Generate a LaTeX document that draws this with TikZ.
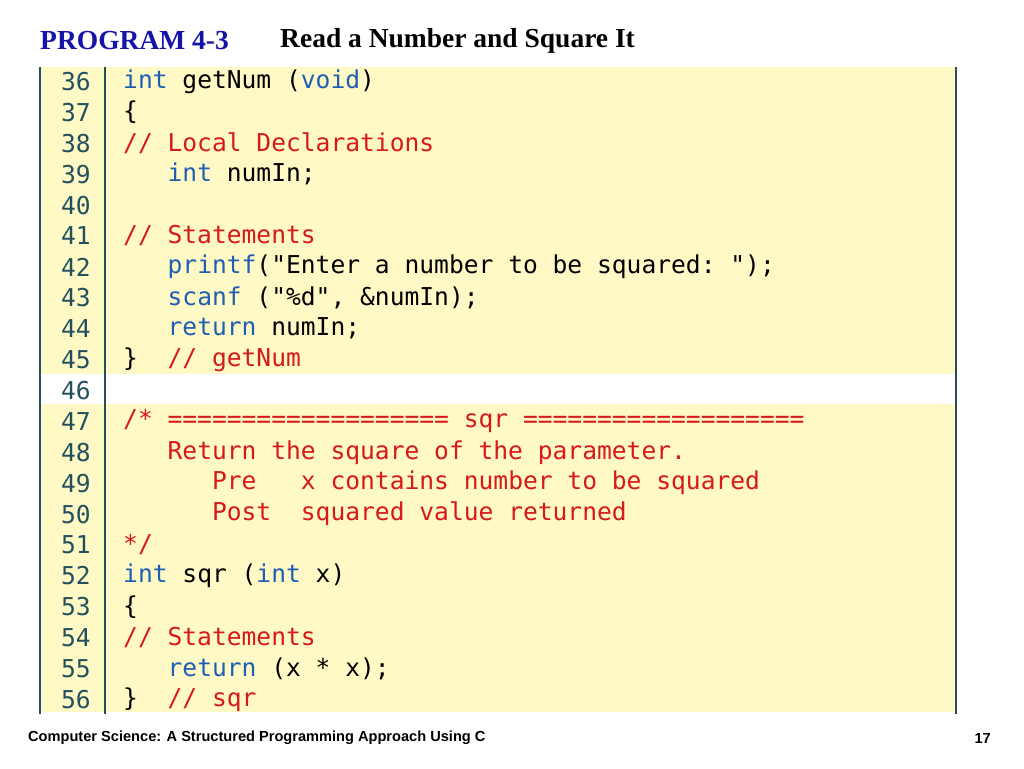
\documentclass[tikz,border=0pt]{standalone}
\usepackage{fontspec}
\setmainfont{Liberation Serif}
\setsansfont{Liberation Sans}
\setmonofont{DejaVu Sans Mono}
\definecolor{bg}{RGB}{255,249,197}
\definecolor{kw}{RGB}{30,95,180}
\definecolor{cm}{RGB}{215,25,25}
\definecolor{ln}{RGB}{35,80,95}
\definecolor{ttl}{RGB}{20,20,170}
\tikzset{code/.style={anchor=west,inner sep=0pt,font=\ttfamily\fontsize{24.6}{24.6}\selectfont},
 num/.style={anchor=east,inner sep=0pt,text=ln,font=\ttfamily\fontsize{24.6}{24.6}\selectfont}}
\newcommand{\K}[1]{\textcolor{kw}{#1}}
\newcommand{\Cm}[1]{\textcolor{cm}{#1}}
\begin{document}
\begin{tikzpicture}[x=1pt,y=-1pt]
\useasboundingbox (0,0) rectangle (1024,768);
\fill[bg] (40,67) rectangle (956,712);
\fill[white] (40,374) rectangle (956,404);
\draw[ln,line width=1.5pt] (40,67) -- (40,714);
\draw[ln,line width=1.5pt] (105,67) -- (105,714);
\draw[ln,line width=1.5pt] (956,67) -- (956,714);
\node[anchor=west,inner sep=0pt,text=ttl,font=\bfseries\fontsize{27.5}{27.5}\selectfont] (t1) at (40,41) {PROGRAM 4-3};
\node[anchor=west,inner sep=0pt,font=\bfseries\fontsize{27.5}{27.5}\selectfont] (t2) at (280,41) {Read a Number and Square It};
\foreach \n [count=\i from 0] in {36,...,56}
  \node[num] (n\n) at (91,{81.5+30.9*\i}) {\n};
\def\ty#1{81.5+30.9*#1}
\node[code] (c36) at (123,{\ty{0}}) {\K{int} getNum (\K{void})};
\node[code] (c37) at (123,{\ty{1}}) {\{};
\node[code] (c38) at (123,{\ty{2}}) {\Cm{// Local Declarations}};
\node[code] (c39) at (123,{\ty{3}}) {\ \ \ \K{int} numIn;};
\node[code] (c41) at (123,{\ty{5}}) {\Cm{// Statements}};
\node[code] (c42) at (123,{\ty{6}}) {\ \ \ \K{printf}("Enter a number to be squared: ");};
\node[code] (c43) at (123,{\ty{7}}) {\ \ \ \K{scanf} ("\%d", \&numIn);};
\node[code] (c44) at (123,{\ty{8}}) {\ \ \ \K{return} numIn;};
\node[code] (c45) at (123,{\ty{9}}) {\}\ \ \Cm{// getNum}};
\node[code] (c47) at (123,{\ty{11}}) {\Cm{/* =================== sqr ===================}};
\node[code] (c48) at (123,{\ty{12}}) {\Cm{\ \ \ Return the square of the parameter.}};
\node[code] (c49) at (123,{\ty{13}}) {\Cm{\ \ \ \ \ \ Pre\ \ \ x contains number to be squared}};
\node[code] (c50) at (123,{\ty{14}}) {\Cm{\ \ \ \ \ \ Post\ \ squared value returned}};
\node[code] (c51) at (123,{\ty{15}}) {\Cm{*/}};
\node[code] (c52) at (123,{\ty{16}}) {\K{int} sqr (\K{int} x)};
\node[code] (c53) at (123,{\ty{17}}) {\{};
\node[code] (c54) at (123,{\ty{18}}) {\Cm{// Statements}};
\node[code] (c55) at (123,{\ty{19}}) {\ \ \ \K{return} (x * x);};
\node[code] (c56) at (123,{\ty{20}}) {\}\ \ \Cm{// sqr}};
\node[anchor=west,inner sep=0pt,font=\sffamily\bfseries\fontsize{14.6}{14.6}\selectfont] (f1) at (28,738) {Computer Science: A Structured Programming Approach Using C};
\node[anchor=east,inner sep=0pt,font=\sffamily\bfseries\fontsize{14.6}{14.6}\selectfont] (f2) at (991,738) {17};
\end{tikzpicture}
\end{document}
